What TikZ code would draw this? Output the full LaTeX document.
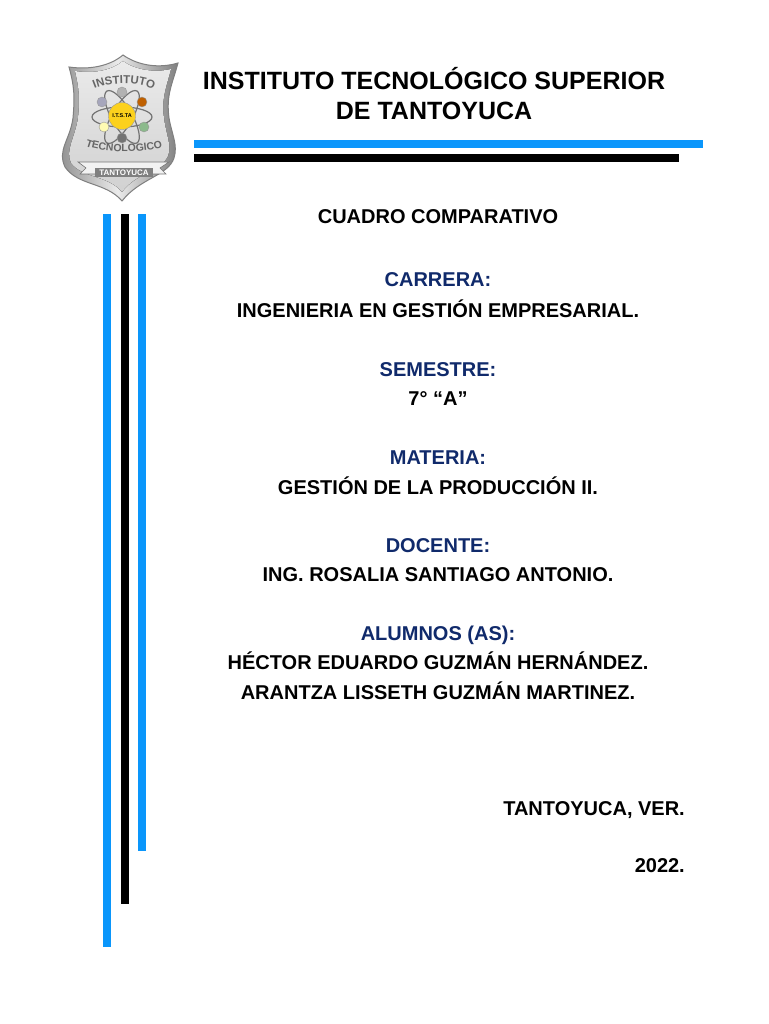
\documentclass[tikz,border=0pt]{standalone}
\usepackage{fontspec}
\setmainfont{Liberation Sans}
\usetikzlibrary{decorations.text}
\definecolor{barblue}{HTML}{0A96FB}
\definecolor{headblue}{HTML}{102A6B}
\tikzset{
  x=1pt,y=-1pt,
  barb/.style={fill=barblue,draw=none},
  bark/.style={fill=black,draw=none},
  head/.style={font=\bfseries\fontsize{20}{20}\selectfont,text=headblue,inner sep=0pt,anchor=base},
  body/.style={font=\bfseries\fontsize{20}{20}\selectfont,text=black,inner sep=0pt,anchor=base},
  titl/.style={font=\bfseries\fontsize{25}{25}\selectfont,text=black,inner sep=0pt,anchor=base},
  orbit/.style={draw=black!55,line width=1.2pt,fill=none},
  icon/.style={circle,minimum size=10pt,inner sep=0pt,draw=black!40,line width=.4pt}
}
\begin{document}
\begin{tikzpicture}
\useasboundingbox (0,0) rectangle (768,1024);
\fill[white] (0,0) rectangle (768,1024);
% shield
\draw[line width=1pt,draw=black!50,left color=black!45,right color=black!50,middle color=black!8]
 (69,67) .. controls (90,70) and (110,66) .. (123,55) .. controls (137,65) and (158,69) .. (178,63)
 .. controls (172,85) and (166,95) .. (169,118) .. controls (172,135) and (178,145) .. (174,158)
 .. controls (168,176) and (140,178) .. (122,201) .. controls (106,182) and (78,186) .. (65,167)
 .. controls (57,150) and (70,140) .. (73,118) .. controls (75,95) and (74,85) .. (69,67) -- cycle;
\fill[top color=black!8,bottom color=black!18]
 (75,71) .. controls (95,74) and (112,70) .. (123,61) .. controls (135,70) and (155,73) .. (171,69)
 .. controls (166,88) and (161,100) .. (164,118) .. controls (166,135) and (172,145) .. (168,156)
 .. controls (161,171) and (136,173) .. (122,192) .. controls (108,175) and (82,178) .. (71,163)
 .. controls (65,150) and (75,138) .. (78,118) .. controls (80,98) and (79,88) .. (75,71) -- cycle;
% atom
\draw[orbit] (122,117) ellipse [x radius=30,y radius=10];
\draw[orbit,rotate around={60:(122,117)}] (122,117) ellipse [x radius=30,y radius=10];
\draw[orbit,rotate around={-60:(122,117)}] (122,117) ellipse [x radius=30,y radius=10];
\node[circle,minimum size=27pt,inner sep=0pt,fill=yellow!65!orange!90,draw=black!40,
  font=\bfseries\fontsize{5.5}{5.5}\selectfont] (core) at (122,116) {I.T.S.TA};
\node[icon,fill=black!30] (i1) at (122,92) {};
\node[icon,fill=blue!25!black!35] (i2) at (102,102) {};
\node[icon,fill=orange!75!black] (i3) at (142,102) {};
\node[icon,fill=yellow!30] (i4) at (104,127) {};
\node[icon,fill=green!40!black!45] (i5) at (144,127) {};
\node[icon,fill=black!55] (i6) at (122,138) {};
% shield lettering
\path[decorate,decoration={text along path,text align=center,
  text={|\bfseries\fontsize{11.5}{11.5}\selectfont\color{black!60}|INSTITUTO}}]
  (85,94) .. controls (105,80) and (142,80) .. (163,94);
\path[decorate,decoration={text along path,text align=center,
  text={|\bfseries\fontsize{10.5}{10.5}\selectfont\color{black!60}|TECNOLOGICO}}]
  (81,144) .. controls (100,154) and (146,154) .. (167,146);
% ribbon
\fill[black!5,draw=black!55,line width=.6pt] (78,162) -- (169,162) -- (160,168) -- (166,174) -- (80,174) -- (86,168) -- cycle;
\fill[black!50] (95,168) rectangle (153,177);
\node[inner sep=0pt,font=\bfseries\fontsize{8}{8}\selectfont,text=white] (tant) at (124,172.5) {TANTOYUCA};
% bars
\fill[barb] (194,140) rectangle (703,148);
\fill[bark] (194,154) rectangle (679,162);
\fill[barb] (103,214) rectangle (111,947);
\fill[bark] (121,214) rectangle (129,904);
\fill[barb] (138,214) rectangle (146,851);
% text
\node[titl] (t1) at (434,90) {INSTITUTO TECNOLÓGICO SUPERIOR};
\node[titl] (t2) at (434,120) {DE TANTOYUCA};
\node[body] (c) at (438,223) {CUADRO COMPARATIVO};
\node[head] (h1) at (438,286) {CARRERA:};
\node[body] (b1) at (438,317) {INGENIERIA EN GESTIÓN EMPRESARIAL.};
\node[head] (h2) at (438,376) {SEMESTRE:};
\node[body] (b2) at (438,405) {7° “A”};
\node[head] (h3) at (438,464) {MATERIA:};
\node[body] (b3) at (438,494) {GESTIÓN DE LA PRODUCCIÓN II.};
\node[head] (h4) at (438,552) {DOCENTE:};
\node[body] (b4) at (438,581) {ING. ROSALIA SANTIAGO ANTONIO.};
\node[head] (h5) at (438,640) {ALUMNOS (AS):};
\node[body] (b5) at (438,669) {HÉCTOR EDUARDO GUZMÁN HERNÁNDEZ.};
\node[body] (b6) at (438,699) {ARANTZA LISSETH GUZMÁN MARTINEZ.};
\node[body,anchor=base east] (v) at (685,815) {TANTOYUCA, VER.};
\node[body,anchor=base east] (y) at (685,872) {2022.};
\end{tikzpicture}
\end{document}
